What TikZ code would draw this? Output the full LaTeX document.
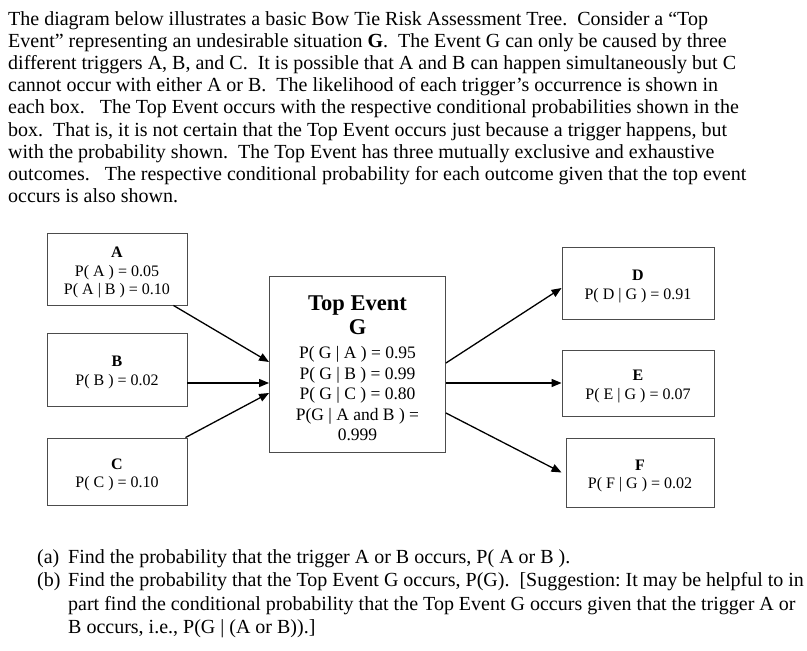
\documentclass[tikz,border=0pt]{standalone}
\usepackage{fontspec}
\setmainfont{Liberation Serif}
\usetikzlibrary{arrows.meta,calc}
\frenchspacing
\begin{document}
\begin{tikzpicture}[x=1pt,y=-1pt,
  para/.style={anchor=base west,inner sep=0pt,font=\fontsize{20}{22}\selectfont},
  box/.style={draw=black!70,line width=0.9pt,inner sep=0pt},
  txt/.style={inner sep=0pt,align=center,font=\fontsize{16}{18.8}\selectfont},
  arr/.style={line width=1.3pt,-{Triangle[length=10pt,width=8pt]}}]
\useasboundingbox (0,0) rectangle (807,651);
% paragraph
\node[para] (p1) at (8,25) {The diagram below illustrates a basic Bow Tie Risk Assessment Tree.~ Consider a “Top};
\node[para] (p2) at (8,47.2) {Event” representing an undesirable situation \textbf{G}.~ The Event G can only be caused by three};
\node[para] (p3) at (8,69.4) {different triggers A, B, and C.~ It is possible that A and B can happen simultaneously but C};
\node[para] (p4) at (8,91.6) {cannot occur with either A or B.~ The likelihood of each trigger’s occurrence is shown in};
\node[para] (p5) at (8,113.8) {each box.~~ The Top Event occurs with the respective conditional probabilities shown in the};
\node[para] (p6) at (8,136) {box.~ That is, it is not certain that the Top Event occurs just because a trigger happens, but};
\node[para] (p7) at (8,158.2) {with the probability shown.~ The Top Event has three mutually exclusive and exhaustive};
\node[para] (p8) at (8,180.4) {outcomes.~~ The respective conditional probability for each outcome given that the top event};
\node[para] (p9) at (8,202.6) {occurs is also shown.};
% boxes
\node[box,minimum width=140,minimum height=72] (A) at (117,269) {};
\node[box,minimum width=140,minimum height=73] (B) at (117,369.5) {};
\node[box,minimum width=140,minimum height=67] (C) at (117,471.5) {};
\node[box,minimum width=176,minimum height=176] (G) at (357.5,364.5) {};
\node[box,minimum width=152,minimum height=72] (D) at (638,283) {};
\node[box,minimum width=152,minimum height=66] (E) at (638,383) {};
\node[box,minimum width=148,minimum height=69] (F) at (640,472.5) {};
% box texts
\node[txt] (At) at ($(A)+(0,3.5)$) {\textbf{A}\\P( A ) = 0.05\\P( A | B ) = 0.10};
\node[txt] (Bt) at ($(B)+(0,3)$) {\textbf{B}\\P( B ) = 0.02};
\node[txt] (Ct) at ($(C)+(0,3.5)$) {\textbf{C}\\P( C ) = 0.10};
\node[txt,font=\fontsize{17.5}{20.4}\selectfont] (Gt) at ($(G)+(0,3.5)$)
  {\fontsize{22.5}{26}\selectfont\bfseries Top Event\\[4pt] \fontsize{22.5}{26}\selectfont\bfseries G\\[4pt]P( G | A ) = 0.95\\P( G | B ) = 0.99\\P( G | C ) = 0.80\\P(G | A and B ) =\\0.999};
\node[txt] (Dt) at ($(D)+(0,3.5)$) {\textbf{D}\\P( D | G ) = 0.91};
\node[txt] (Et) at ($(E)+(0,3.5)$) {\textbf{E}\\P( E | G ) = 0.07};
\node[txt] (Ft) at ($(F)+(0,3.5)$) {\textbf{F}\\P( F | G ) = 0.02};
% arrows
\draw[arr] ($(A.south east)+(-14,0)$) -- ($(G.west)+(0,-2.5)$);
\draw[arr] ($(B.east)+(0,13.5)$) -- ($(G.west)+(0,18.5)$);
\draw[arr] ($(C.north east)+(-2,0)$) -- ($(G.west)+(0,28.5)$);
\draw[arr] ($(G.east)+(0,-1.5)$) -- ($(D.west)+(0,5)$);
\draw[arr] ($(G.east)+(0,18.5)$) -- (E.west);
\draw[arr] ($(G.east)+(0,48.5)$) -- ($(F.west)+(-4,0)$);
% questions
\node[para] (qa) at (37,563) {(a)};
\node[para] (qa1) at (68,563) {Find the probability that the trigger A or B occurs, P( A or B ).};
\node[para] (qb) at (37,586) {(b)};
\node[para] (qb1) at (68,586) {Find the probability that the Top Event G occurs, P(G).~ [Suggestion: It may be helpful to in};
\node[para] (qb2) at (68,610) {part find the conditional probability that the Top Event G occurs given that the trigger A or};
\node[para] (qb3) at (68,633) {B occurs, i.e., P(G | (A or B)).]};
\end{tikzpicture}
\end{document}
